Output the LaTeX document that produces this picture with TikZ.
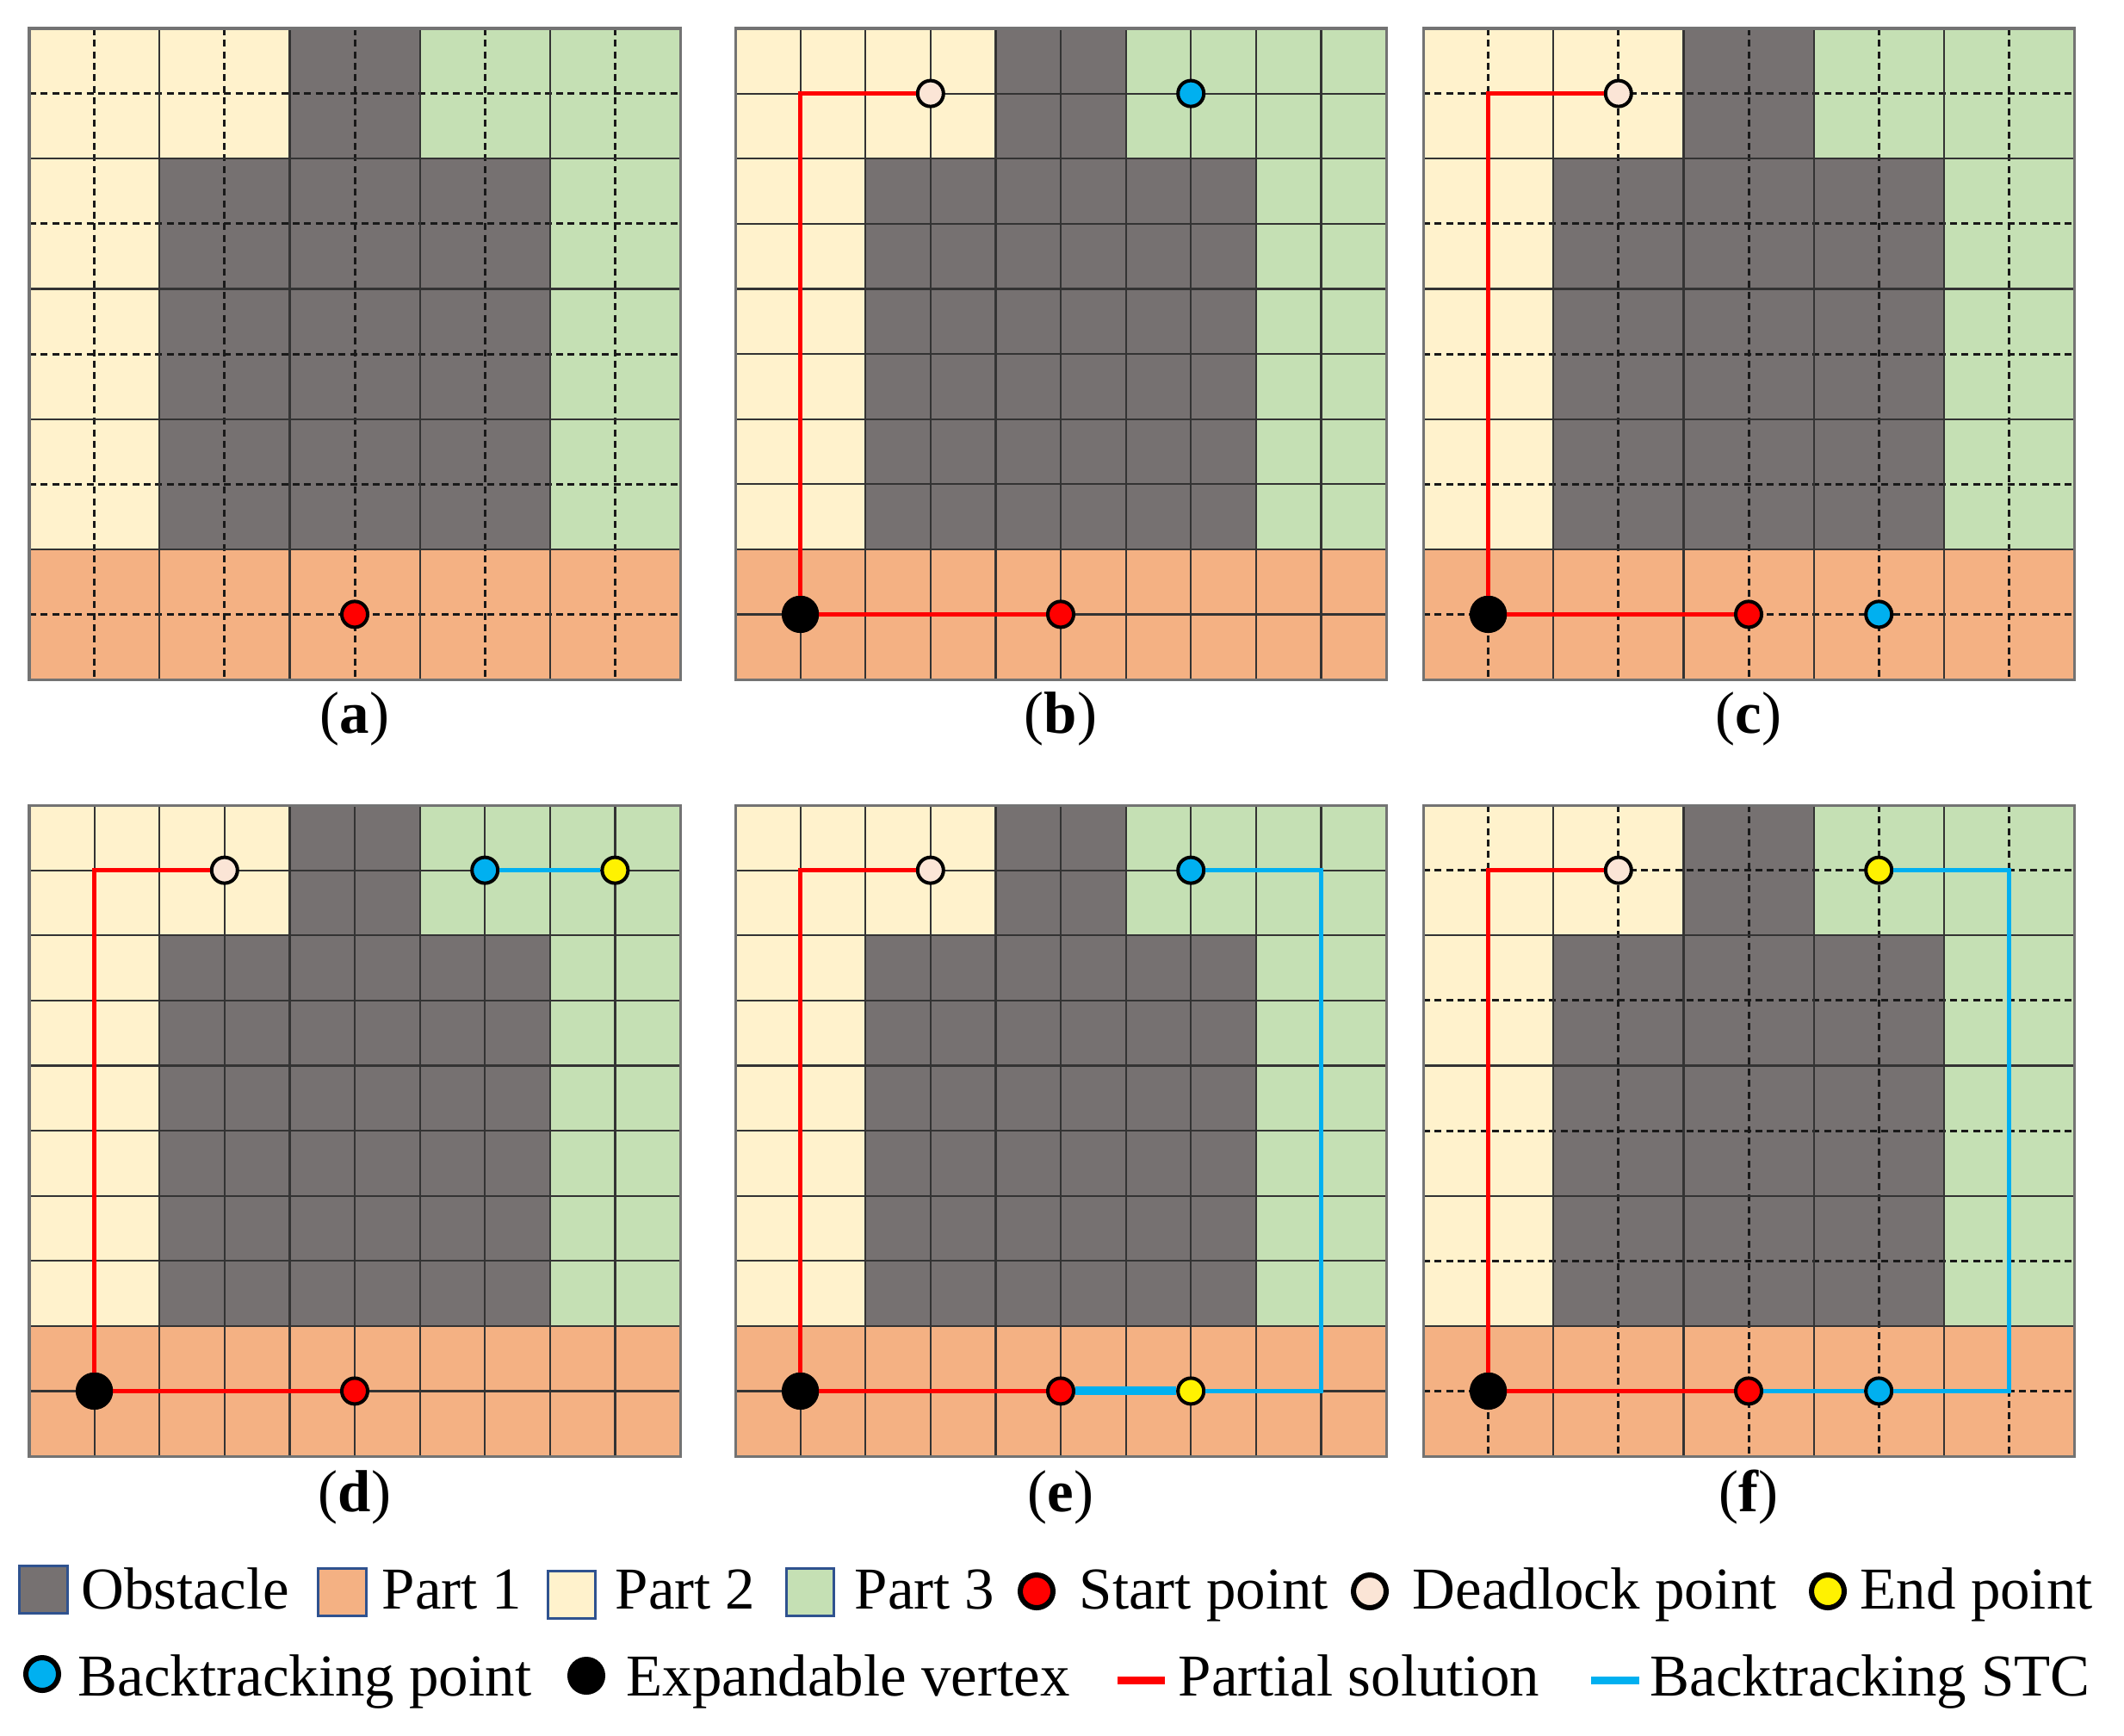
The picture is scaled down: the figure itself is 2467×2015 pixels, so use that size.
\documentclass[tikz,border=0pt]{standalone}
\usepackage{fontspec}
\setmainfont{Liberation Serif}
\definecolor{obst}{HTML}{767171}
\definecolor{partone}{HTML}{F4B183}
\definecolor{parttwo}{HTML}{FFF2CC}
\definecolor{partthree}{HTML}{C5E0B4}
\definecolor{stcblue}{HTML}{00B0F0}
\definecolor{dlfill}{HTML}{FBE5D6}
\definecolor{legborder}{HTML}{2F528F}
\newcommand{\panelfills}{%
  \fill[parttwo] (0,0) rectangle (756,756);
  \fill[obst] (302.4,0) rectangle (453.6,151.2);
  \fill[obst] (151.2,151.2) rectangle (604.8,604.8);
  \fill[partthree] (453.6,0) rectangle (756,151.2);
  \fill[partthree] (604.8,151.2) rectangle (756,604.8);
  \fill[partone] (0,604.8) rectangle (756,756);
}
\newcommand{\finegrid}{%
  \foreach \i in {1,...,9} {
    \draw[gridline] (\i*75.6,0) -- (\i*75.6,756);
    \draw[gridline] (0,\i*75.6) -- (756,\i*75.6);
  }
  \draw[frameline] (0,0) rectangle (756,756);
}
\newcommand{\coarsegrid}{%
  \foreach \i in {1,3,5,7,9} {
    \draw[dashline] (\i*75.6,0) -- (\i*75.6,756);
    \draw[dashline] (0,\i*75.6) -- (756,\i*75.6);
  }
  \foreach \i in {2,4,6,8} {
    \draw[gridline] (\i*75.6,0) -- (\i*75.6,756);
    \draw[gridline] (0,\i*75.6) -- (756,\i*75.6);
  }
  \draw[frameline] (0,0) rectangle (756,756);
}
\begin{document}
\begin{tikzpicture}[x=0.01cm,y=-0.01cm,
  gridline/.style={draw=black!80, line width=0.022cm},
  dashline/.style={draw=black!90, line width=0.03cm, dash pattern=on 0.08cm off 0.053cm},
  frameline/.style={draw=black!55, line width=0.03cm},
  redpath/.style={draw=red, line width=0.05cm},
  bluepath/.style={draw=stcblue, line width=0.05cm},
  bluethick/.style={draw=stcblue, line width=0.1cm},
  vdot/.style={circle, draw=black, line width=0.04cm, minimum size=0.30cm, inner sep=0pt},
  startpt/.style={vdot, fill=red},
  deadpt/.style={vdot, fill=dlfill},
  backpt/.style={vdot, fill=stcblue},
  endpt/.style={vdot, fill=yellow},
  expvx/.style={circle, fill=black, draw=black, minimum size=0.42cm, inner sep=0pt},
  lab/.style={font=\fontsize{19.6}{23}\selectfont, inner sep=0pt, anchor=base},
  legtext/.style={font=\fontsize{19.6}{23}\selectfont, inner sep=0pt, anchor=base west},
  legsq/.style={draw=legborder, line width=0.03cm, minimum size=0.55cm, inner sep=0pt},
  legdot/.style={circle, draw=black, line width=0.06cm, minimum size=0.38cm, inner sep=0pt},
  legline/.style={line width=0.09cm},
]
\useasboundingbox (0,0) rectangle (2467,2015);

% ---------- (a)
\begin{scope}[shift={(34,33)}]
  \panelfills \coarsegrid
  \node[startpt] (a-st) at (378,680.4) {};
  \node[lab] (a-lab) at (378,818) {(\textbf{a})};
\end{scope}

% ---------- (b)
\begin{scope}[shift={(854,33)}]
  \panelfills \finegrid
  \node[expvx] (b-ex) at (75.6,680.4) {};
  \node[startpt] (b-st) at (378,680.4) {};
  \node[deadpt] (b-dl) at (226.8,75.6) {};
  \node[backpt] (b-bp) at (529.2,75.6) {};
  \draw[redpath] (b-ex) -- (b-st);
  \draw[redpath] (b-ex) |- (b-dl);
  \node[lab] (b-lab) at (378,818) {(\textbf{b})};
\end{scope}

% ---------- (c)
\begin{scope}[shift={(1653,33)}]
  \panelfills \coarsegrid
  \node[expvx] (c-ex) at (75.6,680.4) {};
  \node[startpt] (c-st) at (378,680.4) {};
  \node[deadpt] (c-dl) at (226.8,75.6) {};
  \node[backpt] (c-bp) at (529.2,680.4) {};
  \draw[redpath] (c-ex) -- (c-st);
  \draw[redpath] (c-ex) |- (c-dl);
  \node[lab] (c-lab) at (378,818) {(\textbf{c})};
\end{scope}

% ---------- (d)
\begin{scope}[shift={(34,935)}]
  \panelfills \finegrid
  \node[expvx] (d-ex) at (75.6,680.4) {};
  \node[startpt] (d-st) at (378,680.4) {};
  \node[deadpt] (d-dl) at (226.8,75.6) {};
  \node[backpt] (d-bp) at (529.2,75.6) {};
  \node[endpt] (d-en) at (680.4,75.6) {};
  \draw[redpath] (d-ex) -- (d-st);
  \draw[redpath] (d-ex) |- (d-dl);
  \draw[bluepath] (d-bp) -- (d-en);
  \node[lab] (d-lab) at (378,820) {(\textbf{d})};
\end{scope}

% ---------- (e)
\begin{scope}[shift={(854,935)}]
  \panelfills \finegrid
  \node[expvx] (e-ex) at (75.6,680.4) {};
  \node[startpt] (e-st) at (378,680.4) {};
  \node[deadpt] (e-dl) at (226.8,75.6) {};
  \node[backpt] (e-bp) at (529.2,75.6) {};
  \node[endpt] (e-en) at (529.2,680.4) {};
  \coordinate (e-cr) at (680.4,680.4);
  \draw[redpath] (e-ex) -- (e-st);
  \draw[redpath] (e-ex) |- (e-dl);
  \draw[bluepath] (e-bp) -| (e-cr) -- (e-en);
  \draw[bluethick] (e-st) -- (e-en);
  \node[lab] (e-lab) at (378,820) {(\textbf{e})};
\end{scope}

% ---------- (f)
\begin{scope}[shift={(1653,935)}]
  \panelfills \coarsegrid
  \node[expvx] (f-ex) at (75.6,680.4) {};
  \node[startpt] (f-st) at (378,680.4) {};
  \node[deadpt] (f-dl) at (226.8,75.6) {};
  \node[endpt] (f-en) at (529.2,75.6) {};
  \node[backpt] (f-bp) at (529.2,680.4) {};
  \coordinate (f-cr) at (680.4,680.4);
  \draw[redpath] (f-ex) -- (f-st);
  \draw[redpath] (f-ex) |- (f-dl);
  \draw[bluepath] (f-en) -| (f-cr) -- (f-bp) -- (f-st);
  \node[lab] (f-lab) at (378,820) {(\textbf{f})};
\end{scope}

% ---------- legend row 1
\node[legsq, fill=obst] (l-obst) at (50.5,1846) {};
\node[legtext] (t-obst) at (94,1868) {Obstacle};
\node[legsq, fill=partone] (l-p1) at (397.5,1849) {};
\node[legtext] (t-p1) at (443,1868) {Part 1};
\node[legsq, fill=parttwo] (l-p2) at (664,1852) {};
\node[legtext] (t-p2) at (714,1868) {Part 2};
\node[legsq, fill=partthree] (l-p3) at (941,1849) {};
\node[legtext] (t-p3) at (992,1868) {Part 3};
\node[legdot, fill=red] (l-st) at (1204,1848) {};
\node[legtext] (t-st) at (1253,1868) {Start point};
\node[legdot, fill=dlfill] (l-dl) at (1591,1848) {};
\node[legtext] (t-dl) at (1640,1868) {Deadlock point};
\node[legdot, fill=yellow] (l-en) at (2123,1848) {};
\node[legtext] (t-en) at (2160,1868) {End point};

% ---------- legend row 2
\node[legdot, fill=stcblue] (l-bp) at (49,1944) {};
\node[legtext] (t-bp) at (90,1969) {Backtracking point};
\node[legdot, fill=black] (l-ex) at (681,1946) {};
\node[legtext] (t-ex) at (727,1969) {Expandable vertex};
\coordinate (l-r1) at (1298,1951);
\coordinate (l-r2) at (1353,1951);
\draw[legline, red] (l-r1) -- (l-r2);
\node[legtext] (t-ps) at (1368,1969) {Partial solution};
\coordinate (l-b1) at (1848,1951);
\coordinate (l-b2) at (1904,1951);
\draw[legline, stcblue] (l-b1) -- (l-b2);
\node[legtext] (t-bs) at (1916,1969) {Backtracking STC};
\end{tikzpicture}
\end{document}
